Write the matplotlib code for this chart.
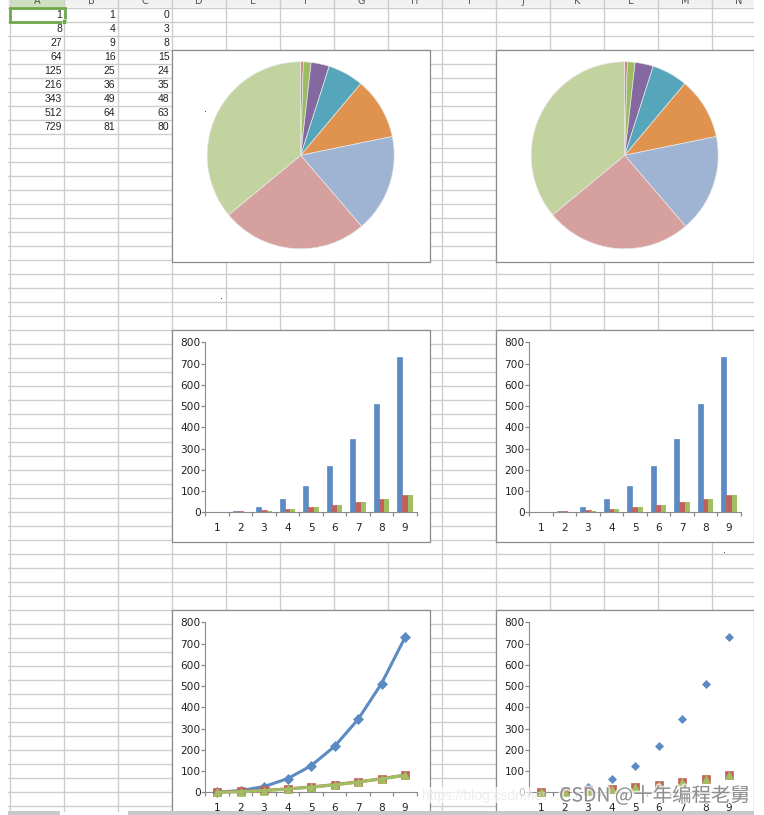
import numpy as np
import matplotlib
matplotlib.use('Agg')
import matplotlib.pyplot as plt
import matplotlib.patheffects as pe
from matplotlib.patches import Rectangle

cube = [1, 8, 27, 64, 125, 216, 343, 512, 729]
square = [1, 4, 9, 16, 25, 36, 49, 64, 81]
square_m1 = [0, 3, 8, 15, 24, 35, 48, 63, 80]
categories = [1, 2, 3, 4, 5, 6, 7, 8, 9]
y_ticks = [0, 100, 200, 300, 400, 500, 600, 700, 800]
col_letters = ['A', 'B', 'C', 'D', 'E', 'F', 'G', 'H', 'I', 'J', 'K', 'L', 'M', 'N']

series_colors = ['#5B8BC2', '#C4605B', '#A0BF62']
pie_colors = ['#5B8BC2', '#C4605B', '#9DBB60', '#83699F', '#55A5BB',
              '#E0924F', '#9FB3D3', '#D6A09F', '#C3D3A0']
GRID = '#CDCDCD'
FRAME = '#8C8C8C'
AXIS = '#8A8A8A'

W, H = 764, 815
fig = plt.figure(figsize=(W / 100, H / 100), dpi=100, facecolor='white')

def px_axes(x0, y0, x1, y1, **kw):
    # pixel box, y measured from the top of the image
    return fig.add_axes([x0 / W, 1 - y1 / H, (x1 - x0) / W, (y1 - y0) / H], **kw)

##############################
## worksheet background
sheet = px_axes(0, 0, 753.5, H)
sheet.set_xlim(0, 753.5)
sheet.set_ylim(H, 0)
sheet.axis('off')
sheet.add_patch(Rectangle((8, 0), 746, 7, fc='#F1F1F1', ec='none', zorder=0))
sheet.add_patch(Rectangle((10, 0), 54, 7, fc='#CFE0C0', ec='none', zorder=0))

col_x = [10 + 54 * i for i in range(15)]
row_y = [7.5 + 14 * i + (0.5 if i else 0) for i in range(58)]
for x in col_x:
    sheet.plot([x, x], [0, 811], color=GRID, lw=1.0, zorder=1)
for y in row_y:
    sheet.plot([8, 754], [y, y], color=GRID, lw=1.0, zorder=1)

for i, letter in enumerate(col_letters):
    sheet.text(37 + 54 * i, 1.5, letter, ha='center', va='center', fontsize=7, color='#555555')

for i in range(len(cube)):
    y = 15.5 + 14 * i
    sheet.text(62, y, str(cube[i]), ha='right', va='center', fontsize=7.5, family='Liberation Sans', color='#222222')
    sheet.text(115.5, y, str(square[i]), ha='right', va='center', fontsize=7.5, family='Liberation Sans', color='#222222')
    sheet.text(169.5, y, str(square_m1[i]), ha='right', va='center', fontsize=7.5, family='Liberation Sans', color='#222222')

# selected cell
sheet.add_patch(Rectangle((10, 7.5), 54.5, 14.5, fc='none', ec='#6FA84B', lw=2, zorder=5))
sheet.add_patch(Rectangle((61.5, 19), 4.5, 5, fc='#6FA84B', ec='white', lw=0.4, zorder=6))

# chart frames
for x0 in [172, 496]:
    for y0, y1 in [(50, 262), (330, 542), (610, 815)]:
        sheet.add_patch(Rectangle((x0, y0), 257.5, y1 - y0, fc='white', ec=FRAME, lw=0.9, zorder=3))

# scroll bar along the bottom
sheet.add_patch(Rectangle((8, 811), 52, 4, fc='#C9C9C9', ec='none', zorder=7))
sheet.add_patch(Rectangle((128, 811), 626, 4, fc='#C9C9C9', ec='none', zorder=7))

# stray specks in the screenshot
sheet.add_patch(Rectangle((205, 110.5), 1, 1, fc='#555555', ec='none', zorder=7))
sheet.add_patch(Rectangle((221, 298), 1, 1, fc='#555555', ec='none', zorder=7))
sheet.add_patch(Rectangle((724, 552), 1, 1, fc='#555555', ec='none', zorder=7))

##############################
## pies
for cx in [300.7, 624.7]:
    ax = px_axes(cx - 94, 155.3 - 94, cx + 94, 155.3 + 94)
    ax.pie(cube, colors=pie_colors, startangle=90, counterclock=False, radius=1,
           wedgeprops={'edgecolor': '#E8E8E8', 'linewidth': 0.5})
    ax.set_xlim(-94 / 93.5, 94 / 93.5)
    ax.set_ylim(-94 / 93.5, 94 / 93.5)

def style_axis(ax):
    ax.patch.set_alpha(0)
    ax.set_xlim(0.5, 9.5)
    ax.set_ylim(0, 800)
    ax.spines['top'].set_visible(False)
    ax.spines['right'].set_visible(False)
    ax.spines['left'].set_color(AXIS)
    ax.spines['bottom'].set_color(AXIS)
    ax.set_yticks(y_ticks)
    ax.set_xticks([c - 0.5 for c in categories] + [9.5])
    ax.set_xticklabels([])
    ax.set_xticks(categories, minor=True)
    ax.set_xticklabels([str(c) for c in categories], minor=True)
    ax.tick_params(axis='y', length=2.6, width=0.9, color=AXIS, labelsize=7.6, labelcolor='#222222', pad=0.8)
    ax.tick_params(axis='x', which='major', length=3, width=0.9, color=AXIS)
    ax.tick_params(axis='x', which='minor', length=0, labelsize=7.6, labelcolor='#222222', pad=8)

##############################
## bars
for x0 in [205.3, 529.3]:
    ax = px_axes(x0, 342.3, x0 + 211.5, 512.3)
    style_axis(ax)
    cats = np.array(categories)
    bw = 0.225
    ax.bar(cats - bw, cube, bw, color=series_colors[0], edgecolor=series_colors[0], lw=0.5)
    ax.bar(cats, square, bw, color=series_colors[1], edgecolor=series_colors[1], lw=0.5)
    ax.bar(cats + bw, square_m1, bw, color=series_colors[2])

##############################
## line chart and markers only chart
markers = ['D', 's', '^']
line_sizes = [4.6, 6.4, 6.2]
point_sizes = [4.0, 5.4, 5.6]
for x0, with_line in [(205.3, True), (529.3, False)]:
    ax = px_axes(x0, 622.3, x0 + 211.5, 792.3)
    style_axis(ax)
    sizes = line_sizes if with_line else point_sizes
    for vals, col, m, ms in zip([cube, square, square_m1], series_colors, markers, sizes):
        ax.plot(categories, vals, color=col, lw=2.2 if with_line else 0, marker=m,
                ms=ms, mec=col, mew=0.5, clip_on=False, zorder=4)

##############################
## watermark
top = px_axes(0, 0, W, H)
top.set_xlim(0, W)
top.set_ylim(H, 0)
top.axis('off')
top.patch.set_alpha(0)
top.add_patch(Rectangle((418, 787), 112, 16, fc='white', ec='none', alpha=0.7))
top.text(422, 796, 'https://blog.csdn.net', fontsize=10, color='#E2E2E2', alpha=0.6, va='center',
         family='Liberation Sans')
top.text(559, 796, 'CSDN @十年编程老舅', fontsize=14, color='#8E8E8E', va='center',
         family=['Noto Sans CJK SC', 'DejaVu Sans'],
         path_effects=[pe.withStroke(linewidth=2.5, foreground='white', alpha=0.7)])

plt.savefig('out.png', dpi=100)
plt.close()
